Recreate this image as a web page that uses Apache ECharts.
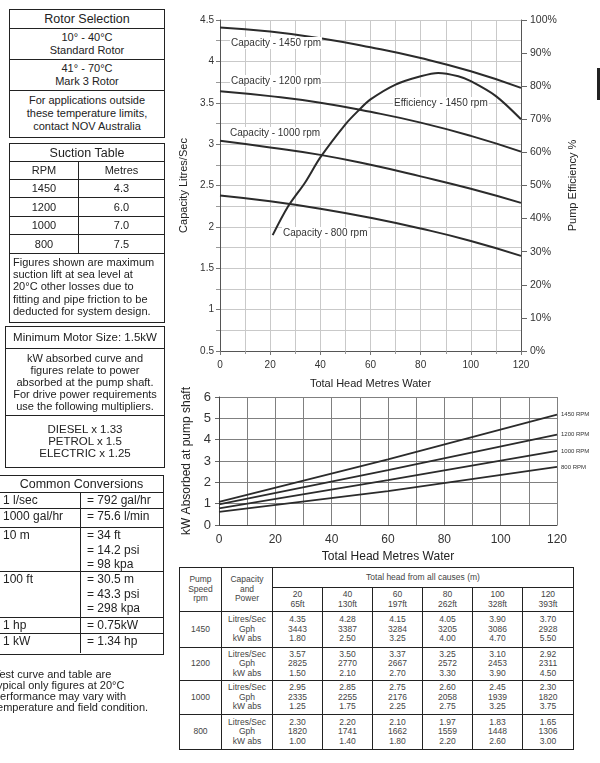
<!DOCTYPE html>
<html><head><meta charset="utf-8">
<script src="https://cdn.jsdelivr.net/npm/echarts@6/dist/echarts.min.js"></script>
<style>
html,body{margin:0;padding:0;background:#fff;}
#wrap{position:relative;width:600px;height:763px;overflow:hidden;font-family:"Liberation Sans",Arial,sans-serif;color:#222;}
#chart{position:absolute;left:0;top:0;width:600px;height:763px;}
.box{position:absolute;border:1.5px solid #222;box-sizing:border-box;background:#fff;}
.row{box-sizing:border-box;border-bottom:1.2px solid #222;text-align:center;display:flex;flex-direction:column;justify-content:center;}
.row:last-child{border-bottom:none;}
.hdr{font-size:12.5px;}
.txt{font-size:11px;line-height:13px;}
.two{display:flex;flex-direction:row;}
.two > div{box-sizing:border-box;display:flex;flex-direction:column;justify-content:center;}
#perf{position:absolute;left:179px;top:567px;border-collapse:collapse;table-layout:fixed;font-size:8.5px;color:#444;background:#fff;}
#perf td{border:1.3px solid #222;text-align:center;vertical-align:middle;padding:0;line-height:9.5px;}
#foot{position:absolute;left:-6px;top:669px;font-size:11px;line-height:11px;}
#bar{position:absolute;left:597px;top:68px;width:3px;height:32px;background:#222;}
</style>
</head><body>
<div id="wrap">
<div id="chart"></div>

<div class="box" style="left:9px;top:9px;width:156px;height:129px;">
  <div class="row hdr" style="height:19px;">Rotor Selection</div>
  <div class="row txt" style="height:31px;">10° - 40°C<br>Standard Rotor</div>
  <div class="row txt" style="height:31px;">41° - 70°C<br>Mark 3 Rotor</div>
  <div class="row txt" style="height:45px;">For applications outside<br>these temperature limits,<br>contact NOV Australia</div>
</div>

<div class="box" id="suction" style="left:9px;top:143px;width:156px;height:180px;"></div>

<div class="box" style="left:5px;top:326px;width:160px;height:142px;">
  <div class="row txt" style="height:22px;font-size:11.5px;">Minimum Motor Size: 1.5kW</div>
  <div class="row txt" style="height:67px;line-height:12px;">kW absorbed curve and<br>figures relate to power<br>absorbed at the pump shaft.<br>For drive power requirements<br>use the following multipliers.</div>
  <div class="row txt" style="height:50px;font-size:11.5px;line-height:12px;">DIESEL x 1.33<br>PETROL x 1.5<br>ELECTRIC x 1.25</div>
</div>

<div class="box" id="conv" style="left:-1px;top:475px;width:165px;height:180px;"></div>

<div id="foot">Test curve and table are<br>typical only figures at 20°C<br>performance may vary with<br>temperature and field condition.</div>

<table id="perf"></table>
<div id="bar"></div>
</div>

<script>
// ---------- Top chart: capacity vs total head ----------
const headM   = [0, 20, 40, 60, 80, 100, 120];
const cap1450 = [4.41, 4.36, 4.28, 4.17, 4.04, 3.88, 3.68];
const cap1200 = [3.64, 3.58, 3.50, 3.39, 3.26, 3.10, 2.91];
const cap1000 = [3.04, 2.96, 2.87, 2.75, 2.61, 2.46, 2.29];
const cap800  = [2.38, 2.31, 2.22, 2.11, 1.98, 1.83, 1.65];
const effHead = [21, 27, 34, 40, 50, 55, 60, 70, 80, 87, 95, 100, 110, 120];
const eff1450 = [35, 43.5, 51, 58.5, 68.5, 72.5, 76, 80.5, 83, 84, 83, 81.5, 77, 70];

// ---------- Middle chart: kW absorbed ----------
const kwHead = [0, 60, 120];
const kw1450 = [1.08, 3.08, 5.17];
const kw1200 = [0.97, 2.57, 4.24];
const kw1000 = [0.78, 2.10, 3.47];
const kw800  = [0.62, 1.59, 2.72];
const kwNames = ['1450 RPM', '1200 RPM', '1000 RPM', '800 RPM'];

// ---------- Performance table ----------
const tblSpeeds = [1450, 1200, 1000, 800];
const tblHeadM  = [20, 40, 60, 80, 100, 120];
const tblHeadFt = ['65ft', '130ft', '197ft', '262ft', '328ft', '393ft'];
const tblLps = [
  [4.35, 4.28, 4.15, 4.05, 3.90, 3.70],
  [3.57, 3.50, 3.37, 3.25, 3.10, 2.92],
  [2.95, 2.85, 2.75, 2.60, 2.45, 2.30],
  [2.30, 2.20, 2.10, 1.97, 1.83, 1.65]
];
const tblGph = [
  [3443, 3387, 3284, 3205, 3086, 2928],
  [2825, 2770, 2667, 2572, 2453, 2311],
  [2335, 2255, 2176, 2058, 1939, 1820],
  [1820, 1741, 1662, 1559, 1448, 1306]
];
const tblKw = [
  [1.80, 2.50, 3.25, 4.00, 4.70, 5.50],
  [1.50, 2.10, 2.70, 3.30, 3.90, 4.50],
  [1.25, 1.75, 2.25, 2.75, 3.25, 3.75],
  [1.00, 1.40, 1.80, 2.20, 2.60, 3.00]
];

// ---------- Side tables ----------
const suctionRpm = ['1450', '1200', '1000', '800'];
const suctionMetres = ['4.3', '6.0', '7.0', '7.5'];
const convLeft  = ['1 l/sec', '1000 gal/hr', '10 m', '100 ft', '1 hp', '1 kW'];
const convRight = [['= 792 gal/hr'], ['= 75.6 l/min'], ['= 34 ft', '= 14.2 psi', '= 98 kpa'], ['= 30.5 m', '= 43.3 psi', '= 298 kpa'], ['= 0.75kW'], ['= 1.34 hp']];

// build suction table
(function(){
  const el = document.getElementById('suction');
  const hs = [18, 18, 18, 19, 18, 19];
  let h = '<div class="row hdr" style="height:'+hs[0]+'px;">Suction Table</div>';
  h += '<div class="row two txt" style="height:'+hs[1]+'px;"><div style="width:69px;border-right:1.2px solid #222;">RPM</div><div style="flex:1;">Metres</div></div>';
  for (let i = 0; i < suctionRpm.length; i++) {
    h += '<div class="row two txt" style="height:'+hs[i+2]+'px;"><div style="width:69px;border-right:1.2px solid #222;">'+suctionRpm[i]+'</div><div style="flex:1;">'+suctionMetres[i]+'</div></div>';
  }
  h += '<div class="row txt" style="height:65px;text-align:left;padding-left:3px;line-height:12.3px;">Figures shown are maximum<br>suction lift at sea level at<br>20°C other losses due to<br>fitting and pipe friction to be<br>deducted for system design.</div>';
  el.innerHTML = h;
})();

// build conversions table
(function(){
  const el = document.getElementById('conv');
  const hs = [16, 19, 44, 46, 16, 19];
  let h = '<div class="row hdr" style="height:17px;">Common Conversions</div>';
  for (let i = 0; i < convLeft.length; i++) {
    h += '<div class="row two" style="height:'+hs[i]+'px;font-size:12px;line-height:14.5px;text-align:left;">'
      + '<div style="width:81px;border-right:1.2px solid #222;padding-left:3px;justify-content:flex-start;">'+convLeft[i]+'</div>'
      + '<div style="flex:1;padding-left:6px;justify-content:flex-start;">'+convRight[i].join('<br>')+'</div></div>';
  }
  el.innerHTML = h;
})();

// build performance table
(function(){
  const t = document.getElementById('perf');
  const cw = [42, 51, 50, 50, 50, 50, 50, 51];
  let h = '<colgroup>' + cw.map(w => '<col style="width:'+w+'px">').join('') + '</colgroup>';
  h += '<tr style="height:20px;"><td rowspan="2">Pump<br>Speed<br>rpm</td><td rowspan="2">Capacity<br>and<br>Power</td><td colspan="6" style="font-size:8.5px;">Total head from all causes (m)</td></tr>';
  h += '<tr style="height:24px;">' + tblHeadM.map((m, i) => '<td>'+m+'<br>'+tblHeadFt[i]+'</td>').join('') + '</tr>';
  const rh = [36, 33, 34, 35];
  for (let r = 0; r < tblSpeeds.length; r++) {
    h += '<tr style="height:'+rh[r]+'px;"><td>'+tblSpeeds[r]+'</td><td>Litres/Sec<br>Gph<br>kW abs</td>';
    for (let c = 0; c < tblHeadM.length; c++) {
      h += '<td>'+tblLps[r][c].toFixed(2)+'<br>'+tblGph[r][c]+'<br>'+tblKw[r][c].toFixed(2)+'</td>';
    }
    h += '</tr>';
  }
  t.innerHTML = h;
})();

// ---------- ECharts ----------
const FONT = 'Liberation Sans';
const lineCol = '#2b2b2b';
const zip = (xs, ys) => xs.map((x, i) => [x, ys[i]]);

const chart = echarts.init(document.getElementById('chart'), null, {renderer: 'canvas'});
const capSeries = [cap1450, cap1200, cap1000, cap800].map((d, i) => ({
  name: 'cap' + i, type: 'line', xAxisIndex: 0, yAxisIndex: 0,
  data: zip(headM, d), smooth: 0.5, showSymbol: false,
  lineStyle: {color: lineCol, width: 2}, z: 3
}));
const kwSeries = [kw1450, kw1200, kw1000, kw800].map((d, i) => ({
  name: kwNames[i], type: 'line', xAxisIndex: 1, yAxisIndex: 2,
  data: zip(kwHead, d), showSymbol: false,
  lineStyle: {color: lineCol, width: 1.8},
  endLabel: {show: true, formatter: kwNames[i], fontSize: 6, color: '#333', fontFamily: FONT, distance: 4}
}));

const lbl = (t, x, y) => ({type: 'text', x: x, y: y, z: 10,
  style: {text: t, font: '10px "Liberation Sans"', fill: '#333', textVerticalAlign: 'middle',
          backgroundColor: '#fff', padding: [1, 1]}});

const option = {
  animation: false,
  backgroundColor: '#fff',
  textStyle: {fontFamily: FONT},
  grid: [
    {left: 220, top: 20, width: 301, height: 331},
    {left: 219, top: 397, width: 338, height: 128}
  ],
  xAxis: [
    {gridIndex: 0, type: 'value', min: 0, max: 120, interval: 20,
     name: 'Total Head Metres Water', nameLocation: 'middle', nameGap: 27,
     nameTextStyle: {fontSize: 11, color: '#222', fontFamily: FONT},
     axisLine: {show: true, lineStyle: {color: '#555', width: 1}},
     axisTick: {show: true, length: 4, lineStyle: {color: '#777'}},
     minorTick: {show: true, splitNumber: 2, length: 3, lineStyle: {color: '#999'}},
     axisLabel: {fontSize: 10, color: '#333', margin: 9, fontFamily: FONT},
     splitLine: {show: true, lineStyle: {color: '#c9c9c9', width: 1}},
     minorSplitLine: {show: true, lineStyle: {color: '#c9c9c9', width: 1}}},
    {gridIndex: 1, type: 'value', min: 0, max: 120, interval: 20,
     name: 'Total Head Metres Water', nameLocation: 'middle', nameGap: 26,
     nameTextStyle: {fontSize: 12, color: '#222', fontFamily: FONT},
     axisLine: {show: true, lineStyle: {color: '#444', width: 1}},
     axisTick: {show: false},
     axisLabel: {fontSize: 12, color: '#333', margin: 9, fontFamily: FONT},
     splitLine: {show: true, lineStyle: {color: '#808080', width: 1}},
     minorSplitLine: {show: true, lineStyle: {color: '#808080', width: 1}},
     minorTick: {show: false, splitNumber: 2}}
  ],
  yAxis: [
    {gridIndex: 0, type: 'value', min: 0.5, max: 4.5, interval: 0.5,
     name: 'Capacity Litres/Sec', nameLocation: 'middle', nameGap: 23, nameRotate: 90,
     nameTextStyle: {fontSize: 11, color: '#222', fontFamily: FONT},
     axisLine: {show: true, lineStyle: {color: '#555', width: 1}},
     axisTick: {show: true, length: 4, lineStyle: {color: '#777'}},
     minorTick: {show: true, splitNumber: 2, length: 4, lineStyle: {color: '#999'}},
     axisLabel: {fontSize: 10, color: '#333', margin: 6, fontFamily: FONT},
     splitLine: {show: true, lineStyle: {color: '#c9c9c9', width: 1}},
     minorSplitLine: {show: true, lineStyle: {color: '#c9c9c9', width: 1}}},
    {gridIndex: 0, type: 'value', position: 'right', min: 0, max: 100, interval: 10,
     name: 'Pump Efficiency %', nameLocation: 'middle', nameGap: 40, nameRotate: 90,
     nameTextStyle: {fontSize: 11, color: '#222', fontFamily: FONT},
     axisLine: {show: true, lineStyle: {color: '#555', width: 1}},
     axisTick: {show: true, length: 6, inside: false, lineStyle: {color: '#666'}},
     axisLabel: {fontSize: 10.5, color: '#333', margin: 9, formatter: '{value}%', fontFamily: FONT},
     splitLine: {show: false}},
    {gridIndex: 1, type: 'value', min: 0, max: 6, interval: 1,
     name: 'kW Absorbed at pump shaft', nameLocation: 'middle', nameGap: 21, nameRotate: 90,
     nameTextStyle: {fontSize: 12, color: '#222', fontFamily: FONT},
     axisLine: {show: true, lineStyle: {color: '#444', width: 1}},
     axisTick: {show: true, length: 4, lineStyle: {color: '#666'}},
     axisLabel: {fontSize: 13, color: '#333', margin: 8, fontFamily: FONT},
     splitLine: {show: true, lineStyle: {color: '#808080', width: 1}}}
  ],
  series: capSeries.concat([
    {name: 'eff', type: 'line', xAxisIndex: 0, yAxisIndex: 1,
     data: zip(effHead, eff1450), smooth: 0.3, showSymbol: false,
     lineStyle: {color: lineCol, width: 2}, z: 3}
  ]).concat(kwSeries),
  graphic: [
    lbl('Capacity - 1450 rpm', 230, 43),
    lbl('Capacity - 1200 rpm', 230, 81),
    lbl('Capacity - 1000 rpm', 229, 133),
    lbl('Capacity - 800 rpm', 282, 233),
    lbl('Efficiency - 1450 rpm', 393, 103)
  ]
};
chart.setOption(option);
</script>
</body></html>
